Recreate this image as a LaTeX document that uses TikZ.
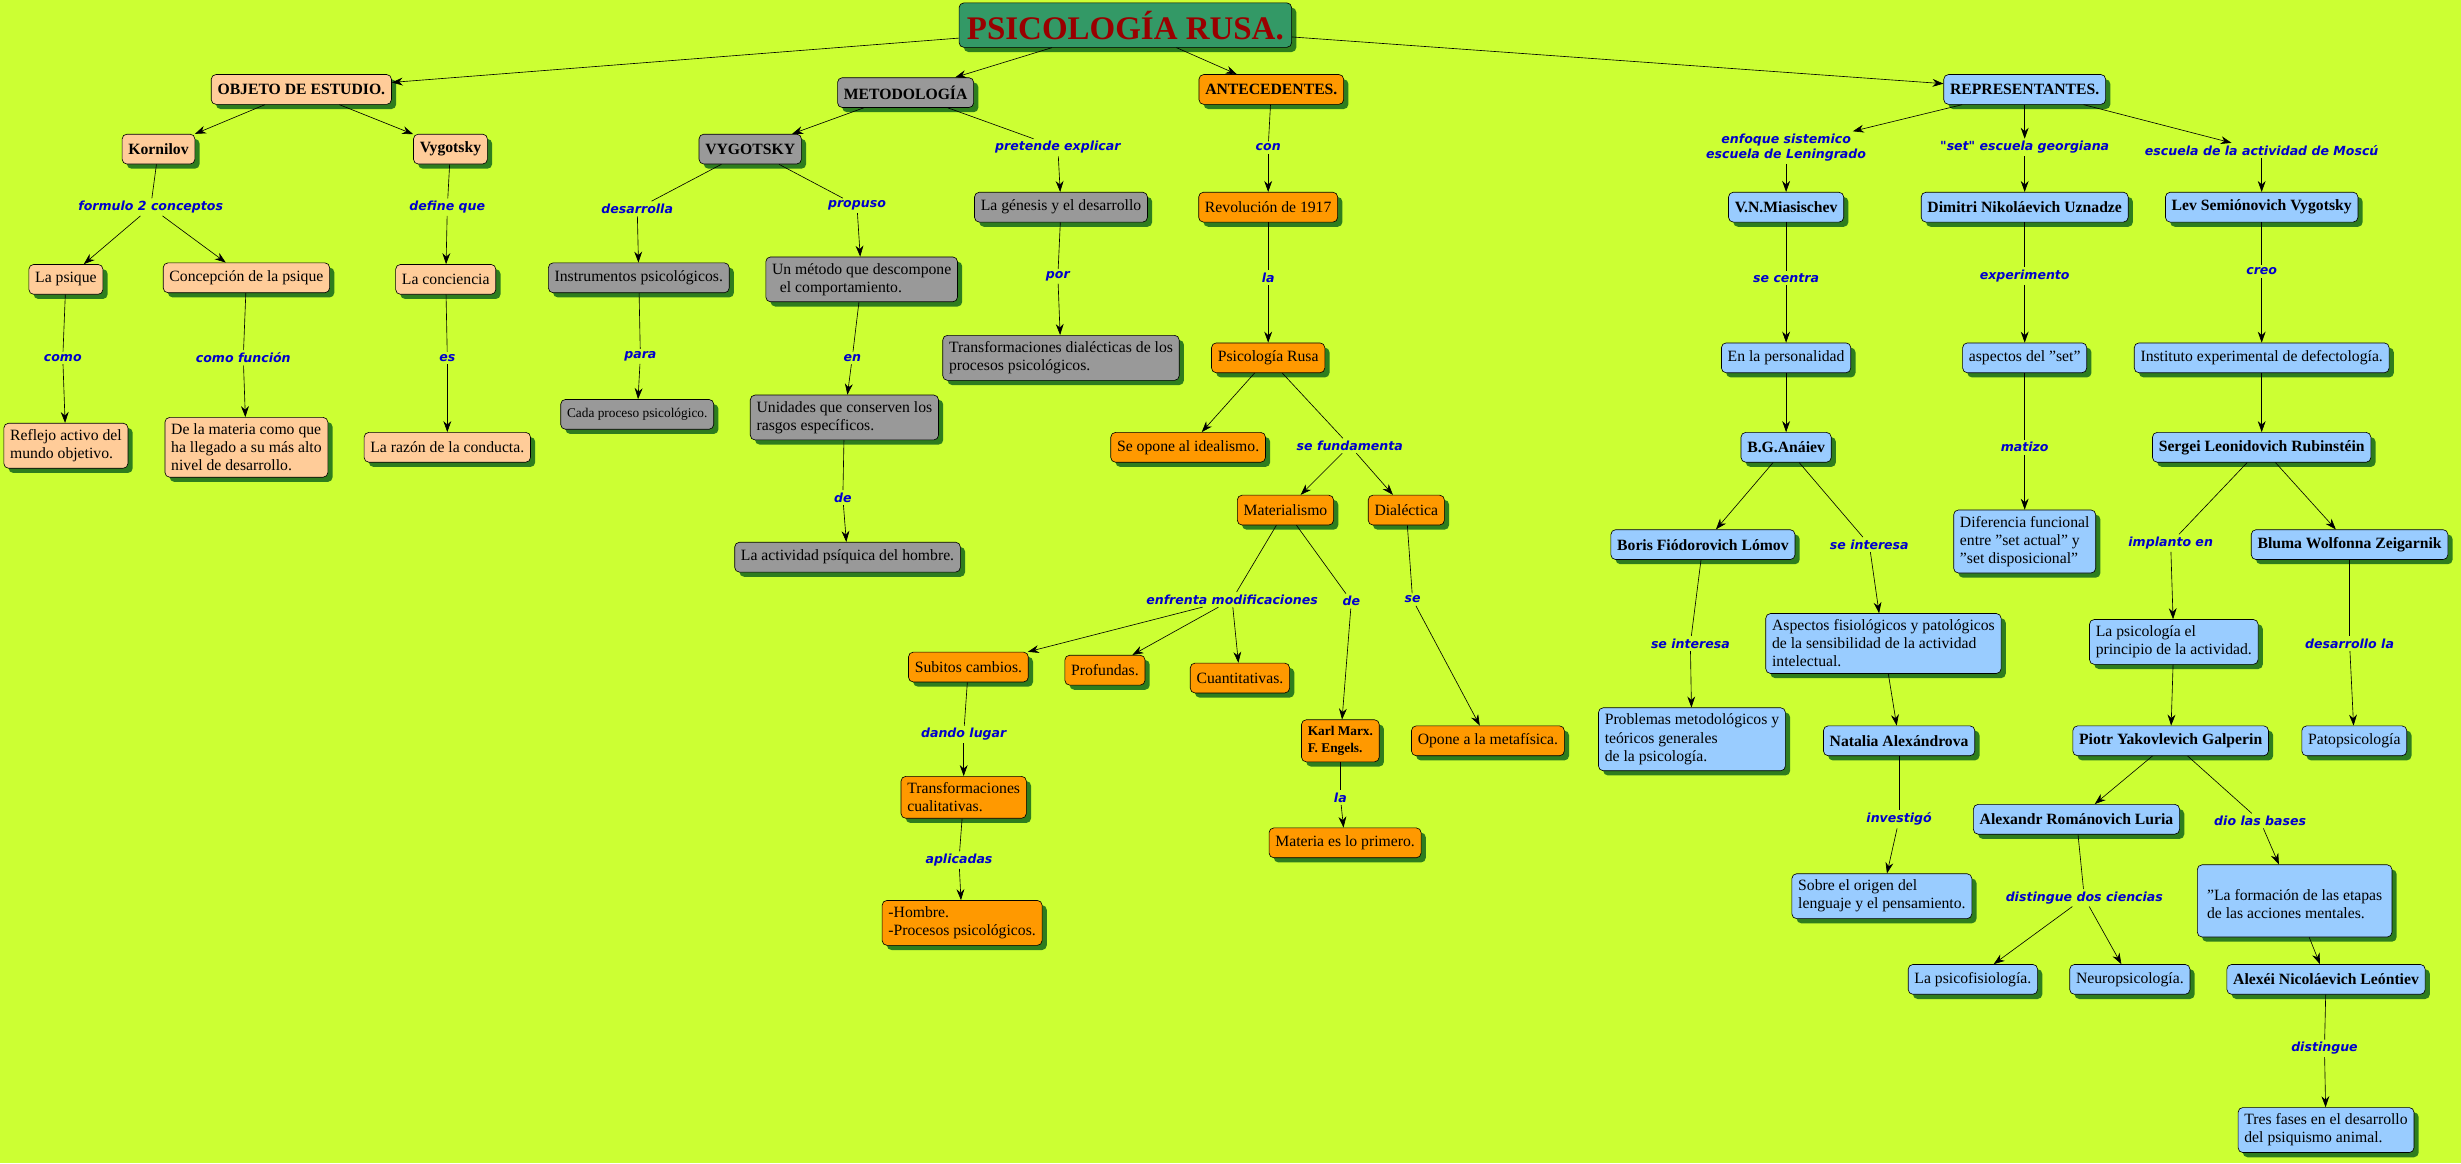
\documentclass[tikz,border=0pt]{standalone}
\usepackage{fontspec}
\setmainfont{Liberation Serif}
\newfontfamily\lblfont{DejaVu Sans}
\usetikzlibrary{shadows,arrows.meta}
\definecolor{bg}{HTML}{CCFF33}
\definecolor{peach}{HTML}{FFCC99}
\definecolor{gry}{HTML}{999999}
\definecolor{org}{HTML}{FF9900}
\definecolor{lb}{HTML}{99CCFF}
\definecolor{ttl}{HTML}{339966}
\definecolor{ttltext}{HTML}{990000}
\definecolor{shd}{HTML}{2E7D1E}
\definecolor{lbl}{HTML}{0000CC}
\tikzset{
 b/.style={draw=black,fill=#1,rounded corners=3pt,inner sep=4pt,minimum height=19pt,font=\fontsize{10}{11.5}\selectfont,align=left,
   drop shadow={fill=shd,opacity=1,shadow xshift=3pt,shadow yshift=-3pt}},
 bb/.style={b=#1,font=\fontsize{10}{11.5}\selectfont\bfseries},
 l/.style={inner sep=1.5pt,text=lbl,font=\lblfont\fontsize{8}{9.5}\selectfont\bfseries\itshape,align=center},
 a/.style={-{Stealth[length=7pt,width=5pt]},black},
 p/.style={black},
}
\begin{document}
\begin{tikzpicture}[x=1pt,y=-1pt]
\fill[bg] (0,0) rectangle (1568,741);
\useasboundingbox (0,0) rectangle (1568,741);
% title and main
\node[b=ttl,font=\fontsize{21}{24}\selectfont\bfseries,text=ttltext,inner sep=5pt] (T) at (717,16) {PSICOLOGÍA RUSA.};
\node[bb=peach] (obj) at (192,57) {OBJETO DE ESTUDIO.};
\node[bb=gry] (met) at (577,59) {METODOLOGÍA};
\node[bb=org] (ant) at (810,57) {ANTECEDENTES.};
\node[bb=lb] (rep) at (1290,57) {REPRESENTANTES.};
\foreach \n in {obj,met,ant,rep} \draw[a] (T) -- (\n);
% peach
\node[bb=peach] (kor) at (101,95) {Kornilov};
\node[bb=peach] (vyg) at (287,95) {Vygotsky};
\node[l] (l1) at (96,132) {formulo 2 conceptos};
\node[l] (l2) at (285,132) {define que};
\node[b=peach] (psi) at (42,178) {La psique};
\node[b=peach] (con) at (157,177) {Concepción de la psique};
\node[b=peach] (cnc) at (284,178) {La conciencia};
\node[l] (l3) at (40,228) {como};
\node[l] (l4) at (155,228) {como función};
\node[l] (l5) at (285,228) {es};
\node[b=peach] (ref) at (42,284) {Reflejo activo del\\mundo objetivo.};
\node[b=peach] (mat) at (157,285) {De la materia como que\\ha llegado a su más alto\\nivel de desarrollo.};
\node[b=peach] (raz) at (285,285) {La razón de la conducta.};
\draw[a] (obj) -- (kor); \draw[a] (obj) -- (vyg);
\draw[p] (kor) -- (l1); \draw[a] (l1) -- (psi); \draw[a] (l1) -- (con);
\draw[p] (vyg) -- (l2); \draw[a] (l2) -- (cnc);
\draw[p] (psi) -- (l3); \draw[a] (l3) -- (ref);
\draw[p] (con) -- (l4); \draw[a] (l4) -- (mat);
\draw[p] (cnc) -- (l5); \draw[a] (l5) -- (raz);
% grey
\node[bb=gry] (VYG) at (478,95) {VYGOTSKY};
\node[l] (l6) at (406,133) {desarrolla};
\node[l] (l7) at (546,131) {propuso};
\node[b=gry] (ins) at (407,177) {Instrumentos psicológicos.};
\node[b=gry] (mtd) at (549,178) {Un método que descompone\\\ \ el comportamiento.};
\node[l] (l8) at (408,227) {para};
\node[l] (l9) at (543,228) {en};
\node[b=gry,font=\fontsize{8.5}{10}\selectfont] (cad) at (406,264) {Cada proceso psicológico.};
\node[b=gry] (uni) at (538,266) {Unidades que conserven los\\rasgos específicos.};
\node[l] (l10) at (537,317) {de};
\node[b=gry] (act) at (540,355) {La actividad psíquica del hombre.};
\node[l] (l11) at (674,94) {pretende explicar};
\node[b=gry] (gen) at (676,132) {La génesis y el desarrollo};
\node[l] (l12) at (674,176) {por};
\node[b=gry] (trd) at (676,228) {Transformaciones dialécticas de los\\procesos psicológicos.};
\draw[a] (met) -- (VYG);
\draw[p] (VYG) -- (l6); \draw[a] (l6) -- (ins);
\draw[p] (VYG) -- (l7); \draw[a] (l7) -- (mtd);
\draw[p] (ins) -- (l8); \draw[a] (l8) -- (cad);
\draw[p] (mtd) -- (l9); \draw[a] (l9) -- (uni);
\draw[p] (uni) -- (l10); \draw[a] (l10) -- (act);
\draw[p] (met) -- (l11); \draw[a] (l11) -- (gen);
\draw[p] (gen) -- (l12); \draw[a] (l12) -- (trd);
% orange
\node[l] (l13) at (808,94) {con};
\node[b=org] (rev) at (808,132) {Revolución de 1917};
\node[l] (l14) at (808,177) {la};
\node[b=org] (pru) at (808,228) {Psicología Rusa};
\node[b=org] (ide) at (757,285) {Se opone al idealismo.};
\node[l] (l15) at (860,284) {se fundamenta};
\node[b=org] (mtl) at (819,325) {Materialismo};
\node[b=org] (dia) at (896,325) {Dialéctica};
\node[l] (l16) at (785,382) {enfrenta modificaciones};
\node[l] (l17) at (861,383) {de};
\node[l] (l18) at (900,382) {se};
\node[b=org] (sub) at (617,425) {Subitos cambios.};
\node[b=org] (pro) at (704,427) {Profundas.};
\node[b=org] (cua) at (790,432) {Cuantitativas.};
\node[bb=org,font=\fontsize{8.5}{11}\selectfont\bfseries] (mx) at (854,472) {Karl Marx.\\F. Engels.};
\node[b=org] (met2) at (948,472) {Opone a la metafísica.};
\node[l] (l19) at (614,468) {dando lugar};
\node[b=org] (tcu) at (614,508) {Transformaciones\\cualitativas.};
\node[l] (l20) at (611,548) {aplicadas};
\node[b=org] (hom) at (613,588) {-Hombre.\\-Procesos psicológicos.};
\node[l] (l21) at (854,508) {la};
\node[b=org] (mpr) at (857,537) {Materia es lo primero.};
\draw[p] (ant) -- (l13); \draw[a] (l13) -- (rev);
\draw[p] (rev) -- (l14); \draw[a] (l14) -- (pru);
\draw[a] (pru) -- (ide);
\draw[p] (pru) -- (l15); \draw[a] (l15) -- (mtl); \draw[a] (l15) -- (dia);
\draw[p] (mtl) -- (l16); \draw[a] (l16) -- (sub); \draw[a] (l16) -- (pro); \draw[a] (l16) -- (cua);
\draw[p] (mtl) -- (l17); \draw[a] (l17) -- (mx);
\draw[p] (dia) -- (l18); \draw[a] (l18) -- (met2);
\draw[p] (sub) -- (l19); \draw[a] (l19) -- (tcu);
\draw[p] (tcu) -- (l20); \draw[a] (l20) -- (hom);
\draw[p] (mx) -- (l21); \draw[a] (l21) -- (mpr);
% blue
\node[l] (l22) at (1138,94) {enfoque sistemico\\escuela de Leningrado};
\node[l] (l23) at (1290,94) {"set" escuela georgiana};
\node[l] (l24) at (1441,96) {escuela de la actividad de Moscú};
\node[bb=lb] (mia) at (1138,132) {V.N.Miasischev};
\node[bb=lb] (uzn) at (1290,132) {Dimitri Nikoláevich Uznadze};
\node[bb=lb] (lev) at (1441,132) {Lev Semiónovich Vygotsky};
\node[l] (l25) at (1138,177) {se centra};
\node[l] (l26) at (1290,176) {experimento};
\node[l] (l27) at (1441,173) {creo};
\node[b=lb] (per) at (1138,228) {En la personalidad};
\node[b=lb] (asp) at (1290,228) {aspectos del "set"};
\node[b=lb] (ins2) at (1441,228) {Instituto experimental de defectología.};
\node[bb=lb] (bga) at (1138,285) {B.G.Anáiev};
\node[l] (l28) at (1290,285) {matizo};
\node[bb=lb] (rub) at (1441,285) {Sergei Leonidovich Rubinstéin};
\node[b=lb] (dif) at (1290,345) {Diferencia funcional\\entre "set actual" y\\"set disposicional"};
\node[bb=lb] (lom) at (1085,347) {Boris Fiódorovich Lómov};
\node[l] (l29) at (1191,347) {se interesa};
\node[l] (l30) at (1383,346) {implanto en};
\node[bb=lb] (blu) at (1497,347) {Bluma Wolfonna Zeigarnik};
\node[l] (l31) at (1077,410) {se interesa};
\node[b=lb] (afp) at (1200,410) {Aspectos fisiológicos y patológicos\\de la sensibilidad de la actividad\\intelectual.};
\node[b=lb] (pac) at (1385,409) {La psicología el\\principio de la actividad.};
\node[l] (l32) at (1497,410) {desarrollo la};
\node[b=lb] (prb) at (1078,471) {Problemas metodológicos y\\teóricos generales\\de la psicología.};
\node[bb=lb] (nat) at (1210,472) {Natalia Alexándrova};
\node[bb=lb] (gal) at (1383,472) {Piotr Yakovlevich Galperin};
\node[b=lb] (pat) at (1500,472) {Patopsicología};
\node[l] (l33) at (1210,522) {investigó};
\node[bb=lb] (lur) at (1323,522) {Alexandr Románovich Luria};
\node[l] (l34) at (1440,523) {dio las bases};
\node[b=lb] (sob) at (1199,571) {Sobre el origen del\\lenguaje y el pensamiento.};
\node[l] (l35) at (1328,572) {distingue dos ciencias};
\node[b=lb,minimum height=46pt,minimum width=124pt] (for) at (1462,574) {\\"La formación de las etapas\\de las acciones mentales.};
\node[b=lb] (pfi) at (1257,624) {La psicofisiología.};
\node[b=lb] (neu) at (1357,624) {Neuropsicología.};
\node[bb=lb] (leo) at (1482,624) {Alexéi Nicoláevich Leóntiev};
\node[l] (l36) at (1481,668) {distingue};
\node[b=lb] (tre) at (1482,720) {Tres fases en el desarrollo\\del psiquismo animal.};
\draw[a] (rep) -- (l22); \draw[a] (rep) -- (l23); \draw[a] (rep) -- (l24);
\draw[a] (l22) -- (mia); \draw[a] (l23) -- (uzn); \draw[a] (l24) -- (lev);
\draw[p] (mia) -- (l25); \draw[a] (l25) -- (per);
\draw[a] (per) -- (bga);
\draw[a] (bga) -- (lom);
\draw[p] (bga) -- (l29); \draw[a] (l29) -- (afp);
\draw[p] (lom) -- (l31); \draw[a] (l31) -- (prb);
\draw[a] (afp) -- (nat);
\draw[p] (nat) -- (l33); \draw[a] (l33) -- (sob);
\draw[p] (uzn) -- (l26); \draw[a] (l26) -- (asp);
\draw[p] (asp) -- (l28); \draw[a] (l28) -- (dif);
\draw[p] (lev) -- (l27); \draw[a] (l27) -- (ins2);
\draw[a] (ins2) -- (rub);
\draw[p] (rub) -- (l30); \draw[a] (l30) -- (pac);
\draw[a] (rub) -- (blu);
\draw[p] (blu) -- (l32); \draw[a] (l32) -- (pat);
\draw[a] (pac) -- (gal);
\draw[a] (gal) -- (lur);
\draw[p] (gal) -- (l34); \draw[a] (l34) -- (for);
\draw[p] (lur) -- (l35); \draw[a] (l35) -- (pfi); \draw[a] (l35) -- (neu);
\draw[a] (for) -- (leo);
\draw[p] (leo) -- (l36); \draw[a] (l36) -- (tre);
\end{tikzpicture}
\end{document}
